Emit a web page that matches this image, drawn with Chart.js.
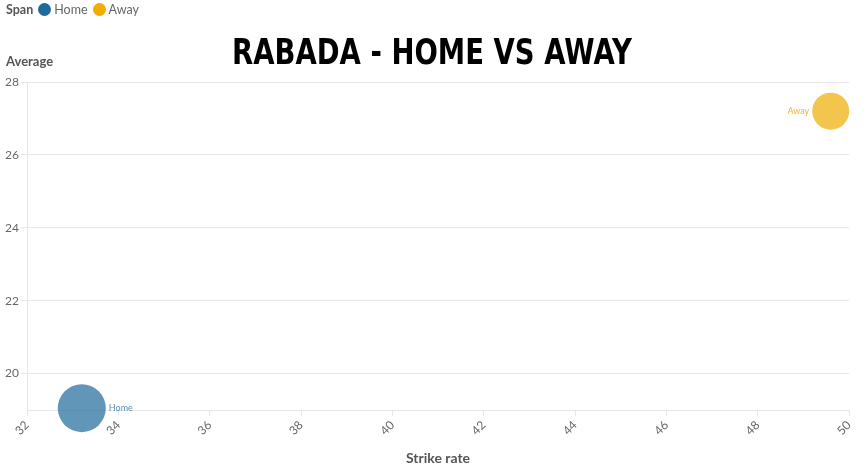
<!DOCTYPE html>
<html>
<head>
<meta charset="utf-8">
<script src="https://cdn.jsdelivr.net/npm/chart.js@4"></script>
<style>
  html, body { margin: 0; padding: 0; background: #fff; }
  #wrap { position: relative; width: 865px; height: 471px; }
  #legend {
    position: absolute; left: 6px; top: 2px;
    font-family: Lato, sans-serif; font-size: 12.5px; color: #666;
    display: flex; align-items: center;
  }
  #legend b { color: #555; margin-right: 5px; }
  #legend .dot { width: 13px; height: 13px; border-radius: 50%; display: inline-block; margin-right: 3px; }
  #legend .item { display: flex; align-items: center; margin-right: 5px; }
</style>
</head>
<body>
<div id="wrap">
  <canvas id="bubbleChart" width="865" height="471"></canvas>
  <div id="legend"><b>Span</b></div>
</div>
<script>
const spans = ["Home", "Away"];
const strikeRates = [33.2, 49.6];
const averages = [19.05, 27.2];
const bubbleSizes = [24, 18.5];
const yTicks = [20, 22, 24, 26, 28];
const COLORS = ["rgb(31, 106, 155)", "rgb(240, 173, 0)"];
const FILLS = ["rgba(31, 106, 155, 0.7)", "rgba(240, 173, 0, 0.7)"];
const LABEL_COLORS = ["rgba(31, 106, 155, 0.75)", "rgba(235, 170, 0, 0.85)"];

const legendEl = document.getElementById("legend");
spans.forEach((name, i) => {
  const item = document.createElement("span");
  item.className = "item";
  item.innerHTML = `<span class="dot" style="background:${COLORS[i]}"></span>${name}`;
  legendEl.appendChild(item);
});

// title, y-axis caption and bubble labels
const extras = {
  id: "extras",
  afterDatasetsDraw(chart) {
    const ctx = chart.ctx;
    ctx.save();
    ctx.fillStyle = "#000";
    ctx.font = "bold 36px 'DejaVu Sans'";
    ctx.textBaseline = "alphabetic";
    const title = "RABADA - HOME VS AWAY";
    const w = ctx.measureText(title).width;
    const targetW = 400;
    ctx.translate(432, 64);
    ctx.scale(targetW / w, 1);
    ctx.textAlign = "center";
    ctx.fillText(title, 0, 0);
    ctx.restore();

    ctx.save();
    ctx.font = "bold 13px Lato";
    ctx.fillStyle = "#555";
    ctx.textAlign = "left";
    ctx.textBaseline = "middle";
    ctx.fillText("Average", 6, 62);

    ctx.font = "9px Lato";
    chart.data.datasets.forEach((ds, i) => {
      const el = chart.getDatasetMeta(i).data[0];
      const r = bubbleSizes[i];
      ctx.fillStyle = LABEL_COLORS[i];
      if (i === 0) {
        ctx.textAlign = "left";
        ctx.fillText(spans[i], el.x + r + 3, el.y);
      } else {
        ctx.textAlign = "right";
        ctx.fillText(spans[i], el.x - r - 3, el.y);
      }
    });
    ctx.restore();
  },
};

new Chart(document.getElementById("bubbleChart"), {
  type: "bubble",
  data: {
    datasets: spans.map((name, i) => ({
      label: name,
      data: [{ x: strikeRates[i], y: averages[i], r: bubbleSizes[i] }],
      backgroundColor: FILLS[i],
      borderWidth: 0,
      hoverBorderWidth: 0,
      clip: false,
    })),
  },
  options: {
    responsive: false,
    animation: false,
    layout: { autoPadding: false, padding: { top: 82, right: 16, left: 0, bottom: 4 } },
    plugins: {
      legend: { display: false },
      tooltip: { enabled: false },
    },
    scales: {
      x: {
        type: "linear",
        min: 32,
        max: 50,
        ticks: {
          stepSize: 2,
          minRotation: 45,
          maxRotation: 45,
          color: "#666",
          font: { family: "Lato", size: 12 },
          padding: 2,
        },
        grid: { drawOnChartArea: false, color: "#e6e6e6", tickLength: 6 },
        border: { color: "#e6e6e6" },
        title: {
          display: true,
          text: "Strike rate",
          color: "#555",
          font: { family: "Lato", size: 14, weight: "bold" },
          padding: { top: 4, bottom: 0 },
        },
        afterFit(scale) {
          scale.height = 57;
          scale.paddingRight = 0;
          scale.paddingLeft = 0;
        },
      },
      y: {
        type: "linear",
        min: 19,
        max: 28,
        afterBuildTicks(scale) {
          scale.ticks = yTicks.map((v) => ({ value: v }));
        },
        ticks: {
          color: "#666",
          font: { family: "Lato", size: 12 },
          padding: 2,
        },
        grid: { color: "#e6e6e6", tickLength: 6 },
        border: { color: "#e6e6e6" },
        afterFit(scale) { scale.width = 27; },
      },
    },
  },
  plugins: [extras],
});
</script>
</body>
</html>
